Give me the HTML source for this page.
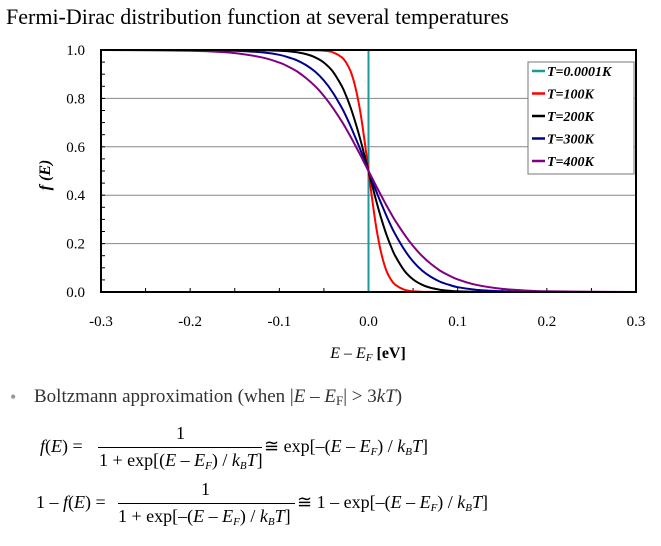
<!DOCTYPE html>
<html><head><meta charset="utf-8"><style>
body{margin:0;background:#fff;width:661px;height:546px;overflow:hidden;position:relative;font-family:"Liberation Serif",serif}
.a{position:absolute;white-space:nowrap}
.f{font-size:18px;color:#000}
i{font-style:italic}
sub{font-size:11px;vertical-align:-3px}
</style></head><body>
<div class="a" style="left:6px;top:4px;font-size:22px">Fermi-Dirac distribution function at several temperatures</div>
<svg id="ch" width="661" height="380" style="position:absolute;left:0;top:0" font-family="Liberation Serif, serif"></svg>
<div class="a" style="left:10px;top:387px;font-size:18px;color:#999">•</div>
<div class="a" style="left:34px;top:386px;font-size:19px;color:#333">Boltzmann approximation (when |<i>E</i> – <i>E</i><sub style="font-size:13px">F</sub>| &gt; 3<i>kT</i>)</div>
<div>
<div class="a f" style="left:40px;top:436px"><i>f</i>(<i>E</i>) =</div>
<div class="a f" style="left:176px;top:423px">1</div>
<div class="a" style="left:98px;top:447px;width:164px;height:1px;background:#000"></div>
<div class="a f" style="left:99px;top:450px">1 + exp[(<i>E</i> – <i>E</i><sub><i>F</i></sub>) / <i>k</i><sub><i>B</i></sub><i>T</i>]</div>
<div class="a f" style="left:264px;top:436px">≅ exp[–(<i>E</i> – <i>E</i><sub><i>F</i></sub>) / <i>k</i><sub><i>B</i></sub><i>T</i>]</div>
</div>
<div>
<div class="a f" style="left:36px;top:492px">1 – <i>f</i>(<i>E</i>) =</div>
<div class="a f" style="left:201px;top:479px">1</div>
<div class="a" style="left:118px;top:503px;width:177px;height:1px;background:#000"></div>
<div class="a f" style="left:118px;top:506px">1 + exp[–(<i>E</i> – <i>E</i><sub><i>F</i></sub>) / <i>k</i><sub><i>B</i></sub><i>T</i>]</div>
<div class="a f" style="left:297px;top:492px">≅ 1 – exp[–(<i>E</i> – <i>E</i><sub><i>F</i></sub>) / <i>k</i><sub><i>B</i></sub><i>T</i>]</div>
</div>
<script>
const energies=[-0.3,-0.25,-0.2,-0.18,-0.15,-0.12,-0.1,-0.09,-0.08,-0.07,-0.06,-0.05,-0.04,-0.03,-0.025,-0.02,-0.015,-0.01,-0.005,0,0.005,0.01,0.015,0.02,0.025,0.03,0.04,0.05,0.06,0.07,0.08,0.09,0.1,0.12,0.15,0.18,0.2,0.25,0.3];
const f100=[1,1,1,1,1,1,1,1,0.9999,0.9997,0.999,0.997,0.9904,0.970,0.948,0.911,0.851,0.761,0.641,0.5,0.359,0.239,0.149,0.089,0.052,0.030,0.0096,0.003,0.001,0.0003,0.0001,0,0,0,0,0,0,0,0];
const f200=[1,1,1,1,0.9998,0.999,0.997,0.9946,0.9904,0.983,0.970,0.948,0.911,0.851,0.810,0.761,0.705,0.641,0.572,0.5,0.428,0.359,0.295,0.239,0.190,0.149,0.089,0.052,0.030,0.017,0.0096,0.0054,0.003,0.001,0.0002,0,0,0,0];
const f300=[1,0.99994,0.9996,0.9991,0.997,0.9904,0.980,0.970,0.957,0.9375,0.911,0.874,0.824,0.761,0.725,0.684,0.641,0.596,0.548,0.5,0.452,0.404,0.359,0.316,0.275,0.239,0.176,0.126,0.089,0.0625,0.043,0.030,0.020,0.0096,0.003,0.0009,0.0004,0.00006,0];
const f400=[0.9998,0.9993,0.997,0.9946,0.9873,0.970,0.948,0.9315,0.911,0.884,0.851,0.810,0.761,0.705,0.674,0.641,0.607,0.572,0.536,0.5,0.464,0.428,0.393,0.359,0.326,0.295,0.239,0.190,0.149,0.116,0.089,0.0685,0.052,0.030,0.0127,0.0054,0.003,0.0007,0.0002];
const stepE=[-0.3,0,0,0.3];
const stepF=[1,1,0,0];
const xTicks=[-0.3,-0.2,-0.1,0.0,0.1,0.2,0.3];
const yTicks=[0,0.2,0.4,0.6,0.8,1.0];
const legendLabels=["T=0.0001K","T=100K","T=200K","T=300K","T=400K"];
const colors=["#1a9a9a","#ff0000","#000000","#00008b","#800080"];
const X0=101,X1=636,Y0=292,Y1=50;
const sx=v=>X0+(v+0.3)/0.6*(X1-X0);
const sy=v=>Y0-v*(Y0-Y1);
const svg=document.getElementById('ch');const NS="http://www.w3.org/2000/svg";
function mk(t,a,p){const e=document.createElementNS(NS,t);for(const k in a)e.setAttribute(k,a[k]);(p||svg).appendChild(e);return e;}
yTicks.forEach(v=>{
 if(v>0&&v<1){const g=mk('line',{x1:X0,x2:X1,y1:sy(v),y2:sy(v),stroke:'#888','stroke-width':1});
 
 }
 const t=mk('text',{x:X0-16,y:sy(v)+5,'text-anchor':'end','font-size':15});t.textContent=v.toFixed(1);
 
 
});
for(let v=0.05;v<1;v+=0.05){mk('line',{x1:X0,x2:X0+4,y1:sy(v),y2:sy(v),stroke:'#000'});}
xTicks.forEach(v=>{
 const t=mk('text',{x:sx(v),y:326,'text-anchor':'middle','font-size':15});t.textContent=v.toFixed(1);
 
 
});
for(let v=-0.25;v<0.3;v+=0.05){mk('line',{x1:sx(v),x2:sx(v),y1:Y0,y2:Y0-4,stroke:'#000'});}
function smooth(pts){
 let d='M'+pts[0][0].toFixed(1)+','+pts[0][1].toFixed(1);
 for(let i=0;i<pts.length-1;i++){
  const p0=pts[Math.max(0,i-1)],p1=pts[i],p2=pts[i+1],p3=pts[Math.min(pts.length-1,i+2)];
  const c1=[p1[0]+(p2[0]-p0[0])/6,p1[1]+(p2[1]-p0[1])/6],c2=[p2[0]-(p3[0]-p1[0])/6,p2[1]-(p3[1]-p1[1])/6];
  d+='C'+c1.map(n=>n.toFixed(1))+' '+c2.map(n=>n.toFixed(1))+' '+p2[0].toFixed(1)+','+p2[1].toFixed(1);
 }
 return d;
}
const series=[[stepE,stepF],[energies,f100],[energies,f200],[energies,f300],[energies,f400]];
series.forEach((s,i)=>{
 const pts=s[0].map((e,j)=>[sx(e),sy(s[1][j])]);
 const d=i===0?pts.map((p,j)=>(j?'L':'M')+p[0].toFixed(1)+','+p[1].toFixed(1)).join(''):smooth(pts);
 const p=mk('path',{d:d,fill:'none',stroke:colors[i],'stroke-width':2,'stroke-linejoin':'round'});
 
 
});
const fr=mk('rect',{x:X0,y:Y1,width:X1-X0,height:Y0-Y1,fill:'none',stroke:'#000','stroke-width':2});


const lg=mk('g',{});


mk('rect',{x:528,y:62,width:106,height:112,fill:'#fff',stroke:'#777'},lg);
legendLabels.forEach((l,i)=>{
 const y=71+i*22.5;
 mk('line',{x1:532,x2:545,y1:y,y2:y,stroke:colors[i],'stroke-width':2.5},lg);
 const t=mk('text',{x:547,y:y+5,'font-size':14,'font-style':'italic','font-weight':'bold'},lg);t.textContent=l;
 
 
});
const yl=mk('text',{x:0,y:0,transform:'translate(50,175) rotate(-90)','text-anchor':'middle','font-size':16,'font-style':'italic','font-weight':'bold'});yl.textContent='f (E)';


const xl=mk('text',{x:368,y:358,'text-anchor':'middle','font-size':16,'font-weight':'bold'});
xl.innerHTML='<tspan font-style="italic" font-weight="normal">E – E</tspan><tspan font-style="italic" font-weight="normal" font-size="11" dy="3">F</tspan><tspan dy="-3">  [eV]</tspan>';


</script>
</body></html>
